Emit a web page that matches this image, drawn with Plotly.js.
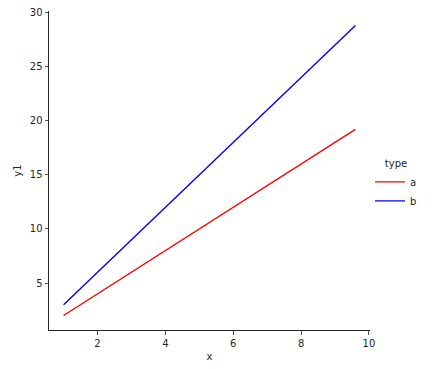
<!DOCTYPE html>
<html>
<head>
<meta charset="utf-8">
<script src="https://cdn.plot.ly/plotly-3.0.1.min.js"></script>
<style>html,body{margin:0;padding:0;background:#fff;}#chart{width:440px;height:369px;}</style>
</head>
<body>
<div id="chart"></div>
<script>
const xValues = [1, 2, 4, 6, 8, 9.6];
const seriesA = [2, 4, 8, 12, 16, 19.2];
const seriesB = [3, 6, 12, 18, 24, 28.8];
const seriesNames = ['a', 'b'];
const seriesColors = ['red', 'blue'];
const xTicks = [2, 4, 6, 8, 10];
const yTicks = [5, 10, 15, 20, 25, 30];

const traces = [seriesA, seriesB].map((ys, i) => ({
  type: 'scatter', mode: 'lines', x: xValues, y: ys, name: seriesNames[i],
  line: {color: seriesColors[i], width: 1.4}
}));

const axisCommon = {
  showgrid: false, zeroline: false, showline: true, linecolor: '#262626', linewidth: 1,
  ticks: 'outside', ticklen: 3.5, tickwidth: 0.8, tickcolor: '#262626',
  tickfont: {size: 10, color: '#262626'}
};

const layout = {
  width: 440, height: 369,
  margin: {l: 49, r: 70, t: 11, b: 39},
  paper_bgcolor: '#fff', plot_bgcolor: '#fff',
  font: {family: 'DejaVu Sans', size: 10, color: '#262626'},
  showlegend: true,
  xaxis: Object.assign({}, axisCommon, {range: [0.57, 10.03], tickvals: xTicks, title: {text: 'x', font: {size: 10, color: '#262626'}, standoff: 5}}),
  yaxis: Object.assign({}, axisCommon, {range: [0.66, 30.14], tickvals: yTicks, title: {text: 'y1', font: {size: 10, color: '#262626'}, standoff: 6}}),
  legend: {x: 1.0, y: 0.455, xanchor: 'left', yanchor: 'middle', bgcolor: 'rgba(0,0,0,0)', itemwidth: 30,
    font: {size: 10, color: '#262626'}, title: {text: 'type', side: 'top center', font: {size: 10, color: '#262626'}}, tracegroupgap: 0}
};

Plotly.newPlot('chart', traces, layout, {displayModeBar: false, staticPlot: true});
</script>
</body>
</html>
